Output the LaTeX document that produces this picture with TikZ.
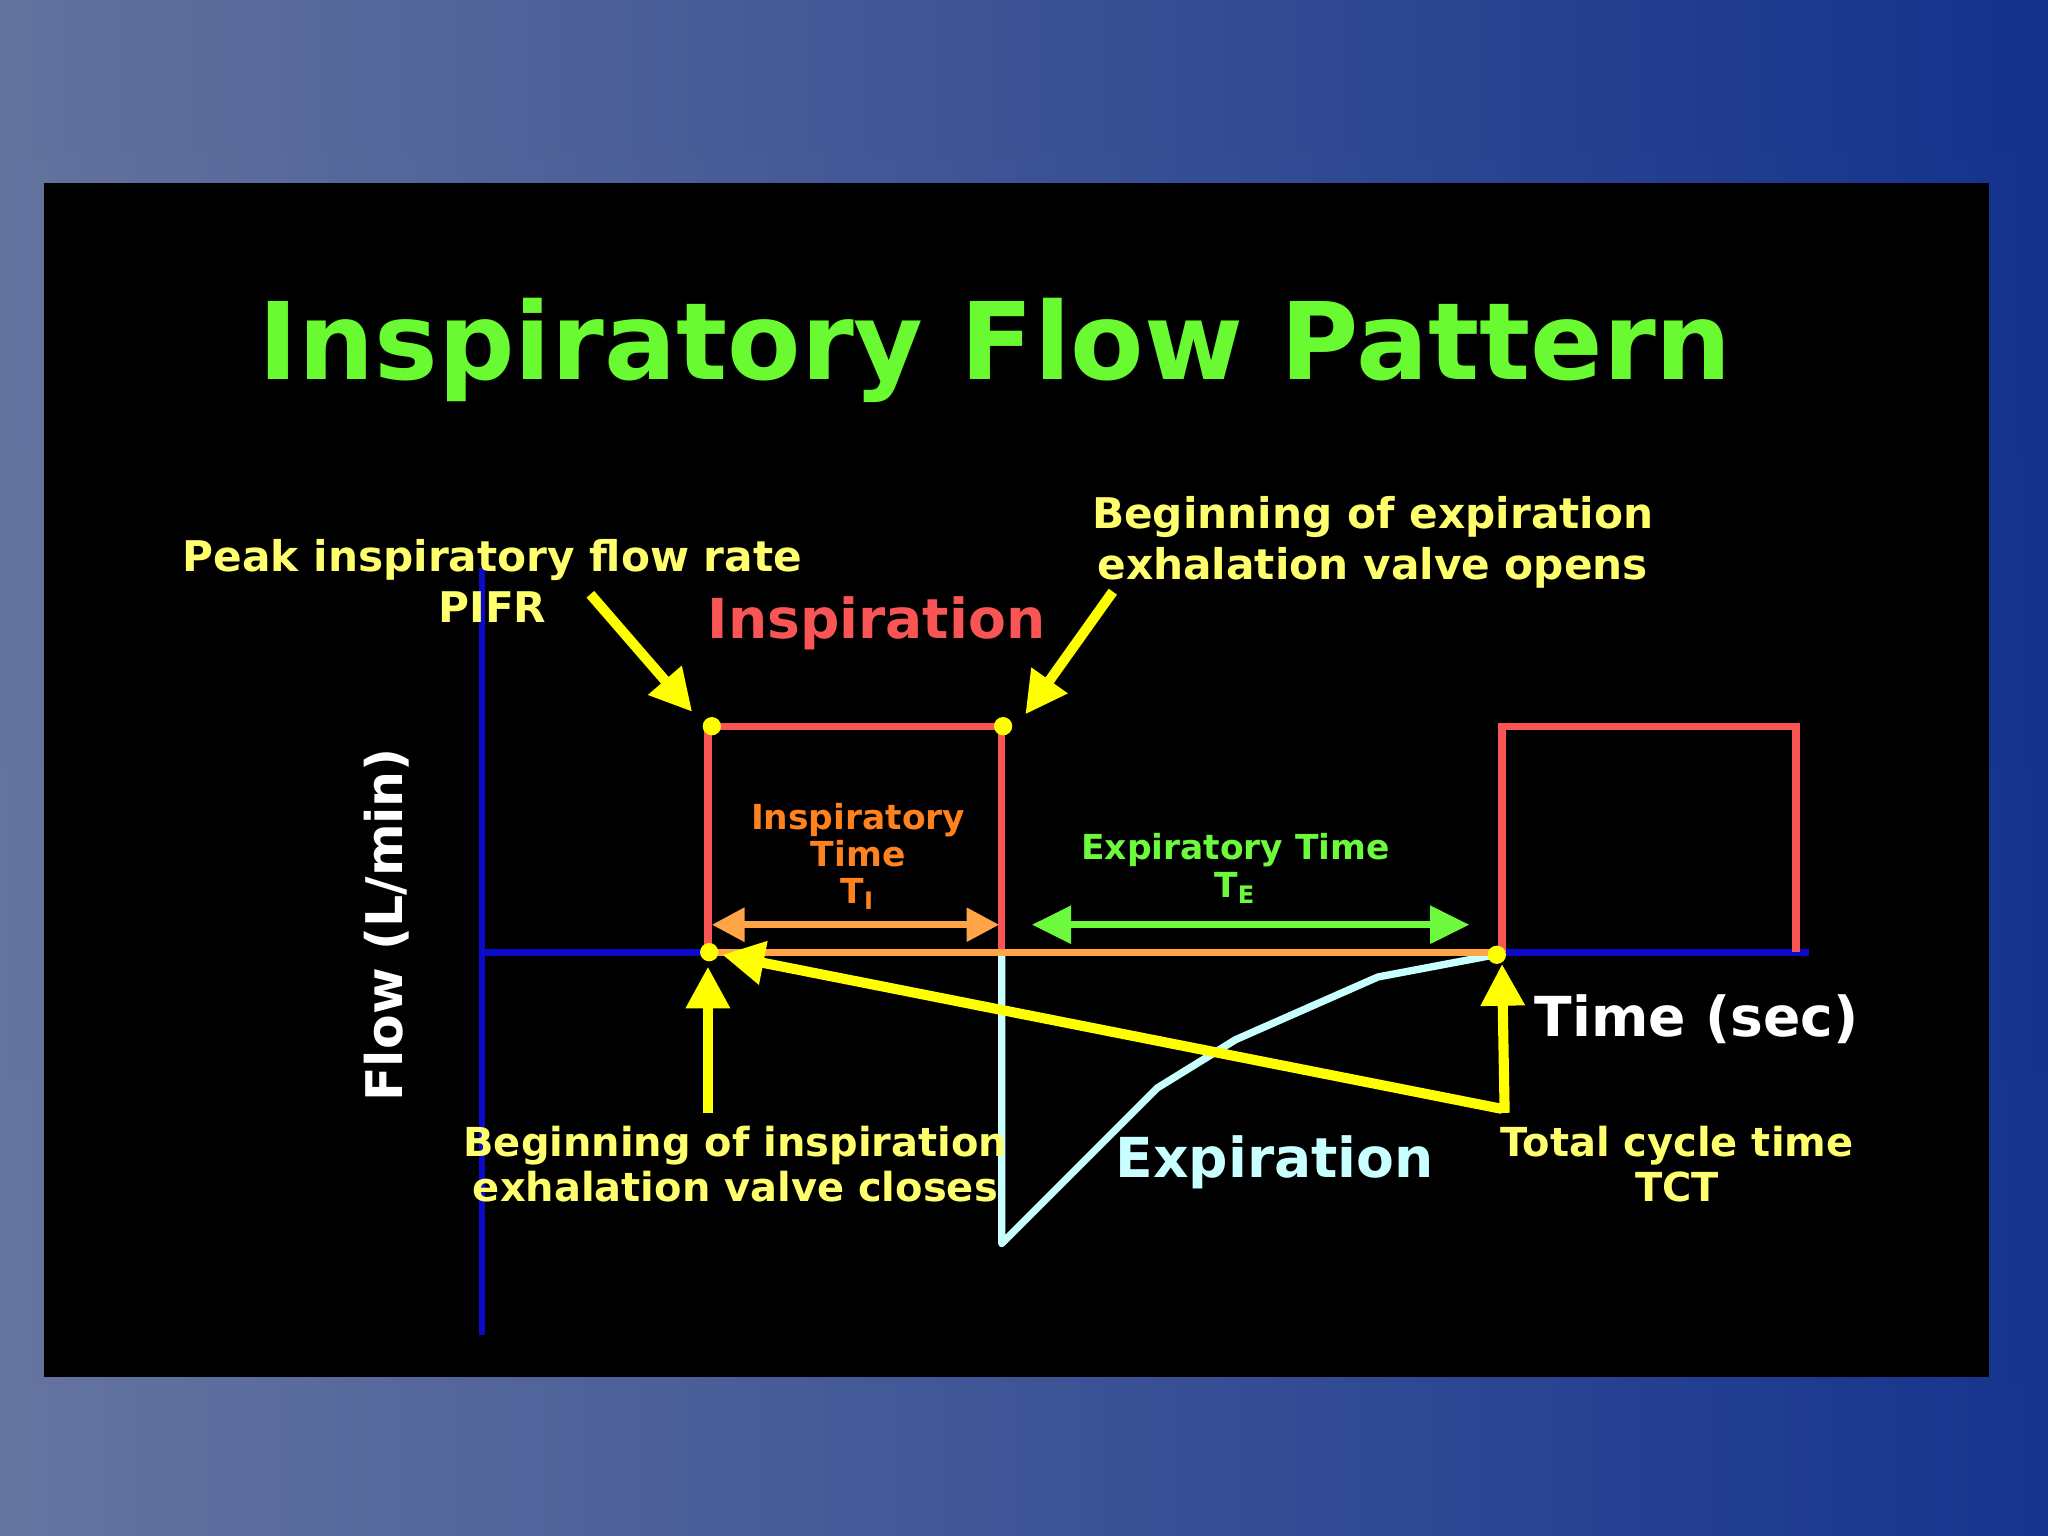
\documentclass[tikz,border=0pt]{standalone}
\usepackage{fontspec}
\setmainfont{DejaVu Sans}
\usetikzlibrary{arrows.meta}
\definecolor{ttl}{RGB}{105,250,50}
\definecolor{ylt}{RGB}{255,255,110}
\definecolor{yar}{RGB}{255,255,0}
\definecolor{rd}{RGB}{250,85,85}
\definecolor{cy}{RGB}{200,255,255}
\definecolor{org}{RGB}{255,130,30}
\definecolor{orl}{RGB}{255,165,70}
\definecolor{gr}{RGB}{110,250,60}
\definecolor{ax}{RGB}{10,10,200}
\tikzset{
  lbl/.style={text=ylt,font=\bfseries\fontsize{9.2}{10.2}\selectfont,inner sep=0pt,align=center},
  yarrow/.style={yar,line width=2.2pt,-{Triangle[length=3.2mm,width=3.2mm]}},
  dot/.style={circle,fill=yar,inner sep=0pt,minimum width=0.14cm,minimum height=0.11cm},
}
\begin{document}
\begin{tikzpicture}[x=0.01cm,y=-0.01cm]
\useasboundingbox (0,0) rectangle (1568,1176);
\shade[left color={rgb,255:red,165;green,168;blue,172},right color={rgb,255:red,20;green,50;blue,140}] (0,0) rectangle (1568,1176);
\shade[top color={rgb,255:red,20;green,50;blue,140},bottom color={rgb,255:red,25;green,55;blue,145},opacity=0.45] (0,0) rectangle (1568,1176);
\fill[black] (34,140) rectangle (1523,1054);
\node[text=ttl,font=\bfseries\fontsize{23.3}{26}\selectfont] (title) at (762,268) {Inspiratory Flow Pattern};
% axes
\coordinate (yt) at (369,435); \coordinate (yb) at (369,1022);
\coordinate (xl) at (369,729); \coordinate (xr) at (1385,729);
\draw[ax,line width=1.5pt] (yt)--(yb);
\draw[ax,line width=1.5pt] (xl)--(xr);
% red pulses
\draw[rd,line width=1.6pt] (542,729)--(542,556)--(767,556)--(767,729);
\draw[rd,line width=1.6pt] (1150,729)--(1150,556)--(1375,556)--(1375,729);
% cyan expiration
\draw[cy,line width=1.6pt,line join=round] (767,729)--(767,952)--(886,833)--(946,796)--(1055,748)--(1145,731);
% orange baseline
\draw[orl,line width=1.5pt] (548,729)--(1145,729);
% time arrows
\draw[orl,line width=1.5pt,{Triangle[length=2.5mm,width=2.5mm]}-{Triangle[length=2.5mm,width=2.5mm]}] (545,708)--(765,708);
\draw[gr,line width=1.5pt,{Triangle[length=3mm,width=2.8mm]}-{Triangle[length=3mm,width=2.8mm]}] (790,708)--(1125,708);
\node[text=org,font=\bfseries\fontsize{7.5}{8}\selectfont,align=center] (ti) at (657,656) {Inspiratory\\Time\\T\textsubscript{I}};
\node[text=gr,font=\bfseries\fontsize{7.5}{8.2}\selectfont,align=center] (te) at (946,665) {Expiratory Time\\T\textsubscript{E}};
% yellow arrows
\draw[yarrow] (452,455)--(530,545);
\draw[yarrow] (852,453)--(785,547);
\draw[yarrow] (542,852)--(542,740);
\draw[yarrow] (1152,852)--(1150,738);
\draw[yarrow] (1150,849)--(553,731);
% dots
\node[dot] (d1) at (545,556) {};
\node[dot] (d2) at (768,556) {};
\node[dot] (d3) at (543,729) {};
\node[dot] (d4) at (1146,731) {};
% labels
\node[lbl] (pifr) at (377,445) {Peak inspiratory flow rate\\[0.03cm]PIFR};
\node[lbl] (bexp) at (1051,415) {Beginning of expiration\\[0.03cm]exhalation valve opens};
\node[lbl,font=\bfseries\fontsize{8.7}{9.8}\selectfont] (binsp) at (563,891) {Beginning of inspiration\\exhalation valve closes};
\node[lbl,font=\bfseries\fontsize{8.7}{9.8}\selectfont] (tct) at (1284,891) {Total cycle time\\TCT};
\node[text=rd,font=\bfseries\fontsize{12}{14}\selectfont] (insp) at (671,477) {Inspiration};
\node[text=cy,font=\bfseries\fontsize{12}{14}\selectfont] (expn) at (976,890) {Expiration};
\node[text=white,font=\bfseries\fontsize{12}{14}\selectfont] (time) at (1299,780) {Time (sec)};
\node[text=white,font=\bfseries\fontsize{11}{13}\selectfont,rotate=90] (flow) at (296,708) {Flow (L/min)};
\end{tikzpicture}
\end{document}
